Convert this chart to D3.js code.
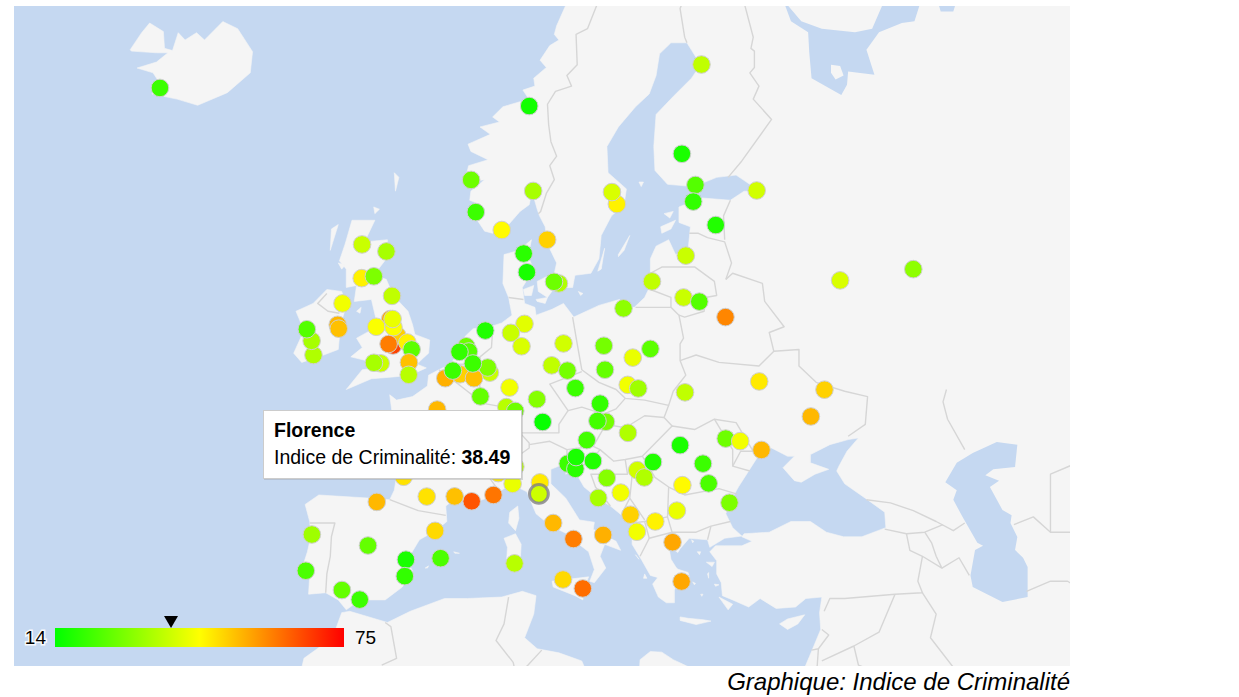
<!DOCTYPE html>
<html><head><meta charset="utf-8">
<script src="https://cdn.jsdelivr.net/npm/d3@7"></script>
<style>html,body{margin:0;padding:0;background:#fff}svg{display:block}text{font-family:"Liberation Sans",Arial,sans-serif}</style>
</head><body><svg id="c" width="1239" height="697"></svg>
<script>
// ---------- chart values: [city, longitude, latitude, crime index] ----------
const seriesName = "Indice de Criminalité";
const legendDomain = [14, 75];
const selectedCity = "Florence";
const captionText = "Graphique: Indice de Criminalité";

const nordic = [
 ["Reykjavik",-21.9,64.13,21],["Oulu",25.47,65.01,37],["Tampere",23.76,61.5,17],["Helsinki",24.94,60.17,24],
 ["Tallinn",24.75,59.44,20],["Saint-Pétersbourg",30.3,59.93,39],["Tartu",26.72,58.38,18],["Riga",24.1,56.95,38],
 ["Kaunas",23.9,54.9,38],["Vilnius",25.28,54.69,24],["Minsk",27.57,53.9,59],["Moscou",37.6,55.75,40],
 ["Nijni Novgorod",44,56.3,31],["Klaipeda",21.14,55.7,37],["Gdansk",18.65,54.35,31],["Trondheim",10.4,63.43,16],
 ["Oslo",10.75,59.91,34],["Bergen",5.32,60.39,27],["Stavanger",5.73,58.97,21],["Kristiansand",8,58.15,45],
 ["Göteborg",11.97,57.7,50],["Stockholm",18.07,59.33,46],["Uppsala",17.64,59.86,40],["Aalborg",9.92,57.05,19],
 ["Aarhus",10.2,56.15,17],["Malmö",13,55.6,35],["Copenhague",12.57,55.68,27]
];
const britain = [
 ["Coventry",-1.51,52.41,67],["Bradford",-1.75,53.8,55],["Nottingham",-1.15,52.95,50],["Birmingham",-1.9,52.49,60],
 ["Peterborough",-0.26,52.57,46],["Cambridge",0.12,52.2,25],["Liverpool",-2.98,53.4,44],["Sheffield",-1.47,53.38,44],
 ["Leeds",-1.55,53.8,42],["Newcastle",-1.6,54.98,37],["Glasgow",-4.25,55.86,46],["Edinburgh",-3.19,55.95,29],
 ["Inverness",-4.22,57.48,38],["Aberdeen",-2.09,57.15,34],["Belfast",-5.93,54.6,43],["Dublin",-6.35,53.5,53],
 ["Dublin Sud",-6.26,53.3,52],["Cork",-8.47,51.9,35],["Limerick",-8.63,52.66,34],["Galway",-9.05,53.27,24],
 ["Londres",-0.12,51.5,52],["Brighton",-0.14,50.82,36],["Bristol",-2.59,51.45,38],["Cardiff",-3.18,51.48,34]
];
const westCentral = [
 ["Hambourg",9.99,53.55,41],["Brême",8.8,53.08,38],["Hanovre",9.73,52.37,40],["Groningue",6.56,53.2,18],
 ["Amsterdam",4.9,52.37,27],["Utrecht",5.12,52.09,24],["La Haye",4.3,52.07,20],["Cologne",6.96,50.94,38],
 ["Düsseldorf",6.77,51.22,29],["Bruxelles",4.35,50.85,50],["Lille",3.06,50.63,54],["Liège",5.57,50.63,52],
 ["Eindhoven",5.47,51.44,21],["Gand",3.72,51.05,21],["Luxembourg",6.13,49.61,26],["Francfort",8.68,50.11,43],
 ["Karlsruhe",8.4,49,36],["Stuttgart",9.18,48.78,27],["Nuremberg",11.08,49.45,30],["Munich",11.58,48.14,15],
 ["Paris",2.35,48.86,53],["Berlin",13.4,52.52,39],["Leipzig",12.37,51.34,37],["Dresde",13.74,51.05,28],["Prague",14.44,50.08,21]
];
const east = [
 ["Poznan",16.93,52.4,28],["Varsovie",21,52.23,25],["Lodz",19.46,51.76,42],["Wroclaw",17.03,51.1,26],
 ["Katowice",19.02,50.26,43],["Cracovie",19.94,50.06,33],["Lviv",24.03,49.84,37],["Brno",16.6,49.2,20],
 ["Bratislava",17.11,48.15,28],["Vienne",16.37,48.2,22],["Budapest",19.04,47.5,35],["Graz",15.44,47.07,22],
 ["Trieste",13.77,45.65,21],["Rijeka",14.44,45.33,19],["Ljubljana",14.5,46.05,17],["Zagreb",15.98,45.81,18],
 ["Banja Luka",17.19,44.77,30],["Split",16.44,43.51,34],["Sarajevo",18.41,43.85,43],["Podgorica",19.26,42.44,50],
 ["Tirana",19.82,41.33,43],["Skopje",21.43,42,46],["Novi Sad",19.85,45.25,39],["Belgrade",20.47,44.8,35],
 ["Timisoara",21.23,45.75,18],["Cluj",23.6,46.77,17],["Iasi",27.59,47.16,27],["Chisinau",28.86,47.01,43],
 ["Odessa",30.72,46.48,53],["Brasov",25.6,45.65,21],["Bucarest",26.1,44.43,23],["Craiova",23.8,44.32,45],
 ["Varna",27.92,43.21,29],["Sofia",23.32,42.7,42],["Thessalonique",22.94,40.64,55],["Athènes",23.73,37.98,55],
 ["Kiev",30.52,50.45,47],["Dnipro",35.04,48.46,53],["Kharkiv",36.23,49.99,50]
];
const south = [
 ["Bologne",11.34,44.49,47],["Rome",12.5,41.9,53],["Naples",14.27,40.85,60],["Bari",16.87,41.12,54],
 ["Cagliari",9.12,39.22,36],["Palerme",13.36,38.12,49],["Catane",15.09,37.5,62],["Marseille",5.37,43.3,65],
 ["Nice",7.27,43.7,61],["Montpellier",3.88,43.61,52],["Toulouse",1.44,43.6,48],["Bilbao",-2.93,43.26,53],
 ["Barcelone",2.17,41.39,49],["Porto",-8.61,41.15,33],["Madrid",-3.7,40.42,26],["Valence",-0.38,39.47,17],
 ["Alicante",-0.48,38.35,20],["Palma",2.65,39.57,23],["Lisbonne",-9.14,38.72,23],["Séville",-5.98,37.39,26],
 ["Malaga",-4.42,36.72,21],["Bordeaux",-0.58,44.84,48],["Milan",9.19,45.46,36],["Turin",7.69,45.07,47],
 ["Gênes",8.95,44.4,42],["Florence",11.25,43.77,38.49]
];
const cities = [...nordic, ...britain, ...westCentral, ...east, ...south];

// ---------- geography: [longitude, latitude] outlines ----------
const eurasiaAfrica = [[25,71.2],[20,70],[16,68.8],[14.5,67.8],[13.7,67.2],[12.8,66.4],[12.6,66.1],[13,65.9],[12.2,65.7],[11.35,65.17],[11.9,64.9],[10.8,64.5],[10.9,64.2],[9.85,64.05],[10.6,63.55],[10.3,63.45],[9.6,63.6],[8.1,63.4],[7.2,63],[7.8,62.8],[6.1,62.6],[7,62.3],[5.05,61.9],[5.3,61.6],[6.8,61.25],[5.1,61],[4.9,60.6],[5.6,60.7],[5.1,60.3],[6.5,60.4],[5.3,59.9],[5.2,59.5],[6.2,59.3],[5.6,58.8],[6.5,58.1],[7.2,58],[8.6,58.4],[9.6,59],[10.4,59.3],[10.65,59.9],[11.1,59.1],[11.3,58.8],[11.8,58.3],[12,57.5],[12.8,56.6],[12.6,56.1],[13,55.4],[14.2,55.4],[14.4,56],[15.8,56.1],[16.5,56.8],[16.7,57.9],[17.6,58.8],[18.7,59.3],[18.9,60],[17.3,60.7],[17.2,61.8],[18.2,62.6],[19.7,63.4],[20.9,63.9],[21.5,64.6],[21.8,65.4],[22.8,65.8],[24.2,65.8],[25.4,65],[24.6,64.5],[23,63.8],[21.5,63.1],[21.3,61.8],[21.4,60.8],[22.5,60.2],[24.8,60.1],[26.8,60.5],[28.5,60.6],[29.7,60.2],[30.2,59.9],[29.2,59.9],[28,59.5],[25.5,59.6],[23.5,59.2],[23.5,58.5],[24.5,58.3],[24.3,57.2],[23.2,57],[22.6,57.7],[21.5,57.4],[21,56.8],[21,55.5],[20.5,54.9],[19.6,54.4],[18.7,54.4],[18.3,54.8],[16.5,54.5],[14.3,53.9],[13.4,54.6],[12.4,54.3],[11,54],[10.9,54.4],[10,54.6],[9.8,55.4],[10.8,56.3],[10.3,56.9],[10.6,57.7],[9.5,57.2],[8.2,57],[8.1,55.6],[8.6,54.9],[8.9,54],[8,53.6],[7,53.4],[5.5,53.3],[4.8,52.9],[4.2,52],[3.5,51.4],[2.5,51.1],[1.6,50.8],[1.5,50.2],[0.2,49.6],[-1.2,49.4],[-1.8,49.7],[-1.6,48.7],[-3,48.8],[-4.7,48.5],[-4.5,47.9],[-3,47.5],[-2,47.2],[-1.2,46.2],[-1.1,45.3],[-1.4,44],[-1.8,43.4],[-3.5,43.5],[-5.8,43.6],[-8,43.7],[-9.2,43.1],[-8.8,42],[-8.7,41],[-9,40],[-9.5,38.8],[-8.8,38.4],[-8.9,37.1],[-7.4,37.2],[-6.3,36.7],[-5.6,36],[-4.4,36.7],[-2.2,36.7],[-0.7,37.6],[0.2,38.7],[-0.3,39.4],[0.8,40.8],[2.2,41.4],[3.2,42],[3.1,43],[4,43.5],[5.4,43.2],[7.2,43.6],[8.8,44.4],[10.2,43.9],[11,42.5],[12.3,41.7],[13.7,41.2],[14.4,40.7],[15.6,40],[16.1,38.8],[15.7,38],[16.1,37.9],[17.1,38.9],[16.6,39.7],[17,40.5],[18.4,40.1],[18,40.7],[16,41.5],[16.1,41.95],[14.8,42.1],[13.6,43.5],[12.3,44.4],[12.3,45.3],[13.7,45.7],[13.6,45],[14.3,45.3],[15.2,44.2],[16.4,43.5],[17.5,43],[18.5,42.4],[19.4,41.8],[19.4,40.5],[20.2,39.5],[21,38.4],[22.8,38],[21.7,38.3],[21.2,37.8],[21.7,36.9],[22.4,36.5],[23.1,36.5],[23.1,37.4],[23.5,38],[24,37.7],[24,38.2],[23.2,39],[22.8,39.5],[22.6,40.4],[23.4,39.95],[23.6,40.2],[24.4,40.9],[26,40.8],[26.2,40.3],[27.5,40.9],[29,41.05],[28.2,41.6],[27.6,42.5],[28,43.3],[28.7,44.2],[29.6,45.2],[30.7,46.4],[31.6,46.6],[33,46.1],[33.6,46.1],[32.6,45.4],[33.6,44.6],[34.2,44.5],[35.4,45],[36.6,45.3],[35,45.7],[35,46.2],[36.7,46.8],[38.3,47.1],[39.2,47.2],[38.2,46.4],[37.5,45.5],[37.3,45.2],[38,44.4],[39.8,43.5],[41.5,42.6],[41.6,41.6],[39.5,41],[37.9,41],[36.4,41.3],[35,42],[33.3,42],[31.4,41.3],[29.2,41.2],[29,41],[29.9,40.7],[29,40.4],[27.5,40.4],[26.7,40.4],[26.2,40],[26.8,39.4],[26.8,38.5],[27.2,37.9],[27.3,37],[28.2,36.7],[29.6,36.2],[30.6,36.8],[32,36.1],[33.7,36.2],[34.6,36.8],[36,36.9],[35.8,35.8],[35.9,34.6],[35.1,33],[34.3,31.4],[32.3,31.2],[30,31.3],[25,31.6],[23,32.4],[22,32.95],[21,33],[20.1,32.4],[20,31],[19,30.3],[15.5,31.3],[15,32.3],[13,32.9],[11.1,33.2],[10,34],[10.8,35.7],[11,37],[9.8,37.3],[8,36.9],[5,36.8],[3,36.8],[0,35.9],[-2,35.1],[-5.3,35.9],[-6,35.8],[-6.8,34],[-9.3,32.5],[-10,30],[-10,25],[62,25],[62,72]];
const greatBritain = [[-5.1,58.6],[-3.1,58.6],[-4,57.6],[-2,57.7],[-2.1,56.8],[-3.2,56],[-2.1,55.8],[-1.5,55],[-0.2,54.2],[0.2,53.5],[0.4,53],[1.7,52.7],[1.6,52],[0.9,51.6],[0.6,51.4],[1.4,51.2],[0,50.8],[-1.5,50.7],[-3.4,50.6],[-5.6,50],[-4.2,51.1],[-3,51.2],[-3.2,51.5],[-5.2,51.8],[-4.2,52.3],[-4.7,52.8],[-3.2,53.3],[-3,53.8],[-3.4,54.8],[-4.9,54.7],[-4.7,55.5],[-5.6,55.4],[-5.6,56.3],[-6.2,56.7],[-5.7,57.5]];
const ireland = [[-5.6,54.5],[-6,55.2],[-7.3,55.3],[-8.5,54.6],[-10,54.2],[-9.3,53.2],[-10.2,52],[-9.5,51.5],[-8,51.8],[-6.3,52.2],[-6.1,53.5]];
const iceland = [[-24.5,65.55],[-23.5,66.16],[-22.8,66.5],[-21.6,66.2],[-21.5,65.6],[-20.8,65.52],[-20.3,66.16],[-19.7,65.9],[-18.7,66.16],[-18,65.9],[-16.4,66.55],[-15.1,66.3],[-13.8,65.48],[-14,64.7],[-16,63.95],[-18.6,63.46],[-20.4,63.7],[-22.6,63.9],[-21.9,64.3],[-22.5,64.7],[-23.9,64.88],[-22.2,65.1],[-21.2,65.44],[-22.2,65.44],[-24.4,65.5]];
const islands = [
 [[8.2,40.9],[9.2,41.2],[9.7,40.5],[9.6,39.2],[9,39],[8.4,39.1],[8.5,40.3]],
 [[9.4,43],[9.5,42.2],[9.2,41.4],[8.6,41.9],[8.7,42.6]],
 [[12.4,38],[15.6,38.3],[15.1,37.3],[15.1,36.7],[14.4,37],[12.5,37.6]],
 [[2.4,39.6],[3.1,39.9],[3.3,39.7],[3,39.3]],[[3.8,40],[4.3,39.9],[3.9,39.9]],[[1.3,38.9],[1.6,39.05],[1.5,38.9]],
 [[23.6,35.5],[24.3,35.4],[25.6,35.3],[26.3,35.2],[25,34.95],[23.6,35.25]],
 [[32.3,35],[33,35.35],[34.5,35.65],[33.9,35],[33,34.6]],
 [[18.2,57],[19.2,57.9],[18.7,57.2],[18.2,56.9]],[[16.4,56.2],[17,57.3],[16.7,56.3]],
 [[21.9,58.3],[23.2,58.6],[22.8,58.2],[22,58]],[[22.2,58.9],[23,59],[22.7,58.7]],
 [[11.1,55.7],[12.5,56.1],[12.5,55.3],[12,54.9],[11.2,55.2]],[[9.9,55.3],[10.8,55.5],[10.6,55],[10,55]],
 [[11,54.8],[12,54.9],[11.8,54.6],[11.1,54.7]],[[14.7,55.2],[15.1,55.1],[14.9,55]],
 [[-7,57.2],[-6.3,58.4],[-6.9,58.2]],[[-6.3,56.6],[-5.7,56.5],[-6,56.3]],[[-3.2,59.2],[-2.7,59.1],[-3.1,58.9]],[[-1.4,60.7],[-1,60.5],[-1.3,59.9]],
 [[-4.7,54.2],[-4.3,54.4],[-4.4,54.1]],[[20,60.3],[20.4,60.3],[20.2,60.1]],
 [[25.9,39.3],[26.6,39.3],[26.4,39]],[[26,38.5],[26.1,38.6],[26.1,38.2]],[[23.1,38.9],[24.3,38.6],[24.5,38],[23.6,38.5]],
 [[27,36.9],[28.2,36.4],[27.8,36]],[[19.7,39.8],[20,39.5],[19.8,39.7]],[[20.5,38.5],[20.7,38.2],[20.4,38.2]],
 [[25.1,40],[25.4,40],[25.3,39.8]],[[24.6,40.8],[24.8,40.7],[24.7,40.6]],[[25.4,37.1],[25.6,37.1],[25.5,36.95]],[[24.7,37.95],[24.95,37.85],[24.85,37.75]],[[26.6,37.8],[27,37.75],[26.7,37.65]]
];
const caspianSea = [[49.2,46.3],[51.3,46.96],[53.1,46.8],[52.9,45.44],[51,45.3],[50.3,44.94],[51.5,44.6],[50.7,44.2],[51.8,42.74],[52.6,42.4],[52.5,41.9],[53.1,40.98],[52.9,40.12],[53.6,39.6],[54,38.98],[54,36.9],[51.8,36.56],[49.2,37.6],[49,38.4],[49.4,40.12],[50.1,40.4],[49.6,40.6],[48.3,42.3],[47.5,43.4],[47.8,44],[46.8,44.5],[47.8,45.7]];
const whiteSea = [[32.6,67.3],[34.2,66.56],[36,66.3],[38.9,66.18],[40.4,66.3],[41.5,67.3],[44.7,67.3],[44.1,66.56],[43,66.5],[41,66.18],[39.9,65.55],[40.6,64.63],[38.3,64.75],[38.2,64.25],[37.7,63.86],[35.1,64.5],[34.9,65.44],[34.8,66.18],[33.3,66.56]];
const northNotch = [[46,67.4],[47.9,67.4],[47.5,66.9],[46.4,66.9]];
const onegaPeninsula = [[36.8,65],[37.6,64.95],[37.9,64.6],[37.2,64.45],[36.8,64.7]];

const borders = [
 [[16.4,67.2],[15.5,66.3],[14.5,66.1],[14.6,65],[13.7,64.6],[14.1,64.2],[12.7,64],[12,63.5],[12.1,62.7],[12.3,62],[12.8,61.4],[12.2,61],[12.6,60.4],[11.9,59.8],[11.4,59],[11.2,58.9]],
 [[23.8,67.2],[23.6,67],[24,66],[24.2,65.8]],
 [[29.2,67.2],[30,66],[29.8,65.6],[30.1,65.5],[30.1,64.9],[29.7,64.7],[30.5,64.2],[30,63.7],[31.6,62.9],[29,61.2],[27.8,60.5]],
 [[28,59.5],[27.4,58.8],[27.5,57.7]],[[24.4,58],[25.2,58],[26,57.8],[27.5,57.6],[28.1,56.6],[27.6,55.8]],
 [[21,56.1],[22,56.4],[24.9,56.4],[26.6,55.7],[26.8,55],[25.8,54.9],[25.7,54.2],[24,53.9],[23.5,54]],
 [[21,55.3],[22.8,54.9],[22.8,54.4],[23.5,54],[23.9,52.8],[23.6,52.5],[23.6,51.6],[24.1,50.8],[23,49.9],[22.6,49.1]],
 [[19.7,54.4],[22.8,54.4]],[[27.6,55.8],[28.2,56.1],[30.8,55.6],[31,54.7],[32.7,53.4],[31.4,53.1],[31.8,52.1]],
 [[23.6,51.6],[25,51.9],[27,51.5],[30.5,51.3],[31.8,52.1],[34,52.2],[34,51.3],[35.5,50.4],[38,49.9],[40,49.6],[39.8,48],[38.3,47.3]],
 [[14.2,53.9],[14.6,52.5],[15,51.1],[16.5,50.4],[18,50],[18.8,49.5],[20.5,49.4],[22.6,49.1],[22.2,48.4],[22.9,47.9]],
 [[15,51],[12.2,50.3],[13.8,48.8],[15,49],[16.9,48.6],[18,48.9],[18.8,49.5]],
 [[13.8,48.8],[13,48],[13,47.5],[10.5,47.5],[9.6,47.5],[8.5,47.7],[7.6,47.6],[8.2,49],[6.5,49.2],[6.4,49.5],[6.1,50.1],[6,50.7],[6.1,51.8],[7.1,52.3],[7.2,53.2]],
 [[8.6,54.9],[9.9,54.8]],[[3.4,51.4],[4.8,51.4],[5.9,51],[5.7,50.8]],[[2.5,51.1],[4.2,50.3],[4.8,50],[5.8,49.5],[6.4,49.5]],[[5.8,49.5],[6.1,50.1]],
 [[7.6,47.6],[6.1,46.2],[6.9,46],[6.7,45],[7.6,44.1],[7.5,43.8]],[[6.9,46],[8.5,46.3],[9,45.9],[10.4,46.6],[10.4,46.9],[9.6,47.5]],
 [[10.4,46.8],[12.2,47],[13.7,46.5],[13.7,45.7]],[[13.7,46.5],[16,46.7],[17.1,48],[16.9,48.6]],
 [[17.1,48],[18.8,47.8],[20.5,48.5],[22.2,48.4]],[[16,46.7],[16.6,46.5],[17.8,45.8],[18.8,45.9],[20.3,46.1],[22.9,47.9],[24.9,47.7],[26.6,48.3],[28.2,46.5],[28.2,45.5],[29.7,45.2]],
 [[26.6,48.3],[28.5,48.1],[30,46.4],[28.9,46.4],[28.2,45.5]],[[20.3,46.1],[21.4,44.8],[22.6,44.2],[24,43.7],[27,44.1],[28.6,43.75]],
 [[22.6,44.2],[22.5,42.3],[22.9,41.3],[25,41.3],[26.3,41.7],[28,42]],[[26.3,41.7],[26,40.8]],[[22.9,41.3],[20.9,40.9],[20.1,39.7]],
 [[20.9,40.9],[20.5,42],[22.5,42.3]],[[20.5,42],[19.4,41.9]],[[20.5,42.1],[19.2,43.5],[19.4,44.9]],[[19.2,43.5],[18.5,42.5]],
 [[17.5,43],[16.2,44.2],[15.8,45],[19,45],[18.8,45.9]],[[13.6,45.5],[15.5,45.6],[16.6,46.5]],
 [[-8.8,41.9],[-8.1,41.9],[-6.6,41.9],[-6.9,41],[-7,39.7],[-7.3,38.5],[-7.4,37.2]],[[-1.8,43.4],[0.7,42.7],[3.1,42.4]],
 [[-7.3,55.1],[-8.1,54.6],[-7.2,54.2],[-6.2,54.1]],
 [[46.9,50],[46.6,49.3],[47,48.3],[48.5,46.5]],[[39.9,43.4],[42,43.2],[44,42.7],[46,42],[47.5,41.4],[48.5,41.9]],
 [[41.5,41.5],[43.4,41.2],[45,41.3],[46.6,41.8]],[[43.4,41.2],[43.7,40.1],[44.8,39.7],[46.5,38.9],[46,39.7],[45.6,40.6],[45,41.3]],
 [[46.5,38.9],[48,39.6],[48.9,38.4]],[[44.8,39.7],[44.4,38],[44.8,37.2],[42.4,37.1],[38,36.8],[36.7,36.8],[36.2,35.9]],
 [[42.4,37.1],[41,34.4],[38.8,33.4],[36,32.3]],[[38.8,33.4],[39.2,32],[42,31]],[[44.8,37.2],[46,35.7],[45.5,34],[47.8,31.5]],
 [[36,34.6],[36.6,34.2],[35.7,33.2],[35.1,33.1]],[[35.7,33.2],[35.6,32],[35,29.5]],
 [[53.9,37.3],[56,38],[57.5,38],[58.5,37.5]],[[52.8,41.8],[54.5,42.3],[56,41.3],[58,41.3]],[[56,41.3],[56,45],[58,45.6]],
 [[-2.2,35.1],[-1.7,34.8],[-1.2,32.5],[-2.5,32]],[[8.6,36.9],[8.2,35],[7.5,33.8],[9,32.2],[9.3,31]],[[11.5,33.1],[10.3,32],[9.3,31.2]],[[25,31.6],[25,30]]
];

// ---------- layout ----------
const frame = {x:14, y:6, w:1056, h:660};
const svg = d3.select("#c");
const proj = d3.geoMercator().scale(655).translate([410.3,1051.5]);
const color = d3.scaleLinear().domain([14,44.5,75]).range(["#00ff00","#ffff00","#ff0000"]);
const ring = d3.line().x(d=>proj(d)[0]).y(d=>proj(d)[1]);

const defs = svg.append("defs");
defs.append("clipPath").attr("id","mapClip").append("rect")
  .attr("x",frame.x).attr("y",frame.y).attr("width",frame.w).attr("height",frame.h);
const map = svg.append("g").attr("clip-path","url(#mapClip)");
const landColor="#f5f5f5", seaColor="#c5d8f1";
map.append("rect").attr("x",frame.x).attr("y",frame.y).attr("width",frame.w).attr("height",frame.h).attr("fill",seaColor);

map.selectAll("path.land").data([eurasiaAfrica,greatBritain,ireland,iceland,...islands]).join("path")
  .attr("class","land").attr("d",d=>ring(d)+"Z").attr("fill",landColor).attr("stroke",landColor).attr("stroke-width",.6);
map.selectAll("path.sea").data([caspianSea,whiteSea,northNotch]).join("path")
  .attr("class","sea").attr("d",d=>ring(d)+"Z").attr("fill",seaColor);
map.append("path").attr("d",ring(onegaPeninsula)+"Z").attr("fill",landColor);
map.selectAll("path.border").data(borders).join("path")
  .attr("class","border").attr("d",ring).attr("fill","none").attr("stroke","#d6d6d6").attr("stroke-width",1.4).attr("stroke-linejoin","round");

// markers
map.selectAll("circle.city").data(cities).join("circle").attr("class","city")
  .attr("cx",d=>proj([d[1],d[2]])[0]).attr("cy",d=>proj([d[1],d[2]])[1]).attr("r",8.8)
  .attr("fill",d=>color(d[3])).attr("stroke","#cfcfcf").attr("stroke-width",1);
const sel = cities.find(d=>d[0]===selectedCity);
map.append("circle").attr("cx",proj([sel[1],sel[2]])[0]).attr("cy",proj([sel[1],sel[2]])[1]).attr("r",9.4)
  .attr("fill","none").attr("stroke","#7a7a7a").attr("stroke-opacity",.75).attr("stroke-width",3);

// legend
const lx = d3.scaleLinear().domain(legendDomain).range([55,344]);
const grad = defs.append("linearGradient").attr("id","lg");
[14,44.5,75].forEach(v=>grad.append("stop").attr("offset",(v-14)/61).attr("stop-color",color(v)));
svg.append("rect").attr("x",lx(14)).attr("y",628).attr("width",lx(75)-lx(14)).attr("height",19).attr("fill","url(#lg)");
const legendText=(t,x,a)=>{svg.append("text").attr("x",x).attr("y",644).attr("text-anchor",a).attr("font-size",19)
  .attr("stroke","#fff").attr("stroke-width",3).attr("paint-order","stroke").attr("fill","#000").attr("stroke-opacity",a==="end"?.9:0).text(t);};
legendText(legendDomain[0],46,"end"); legendText(legendDomain[1],355,"start");
const tx = lx(sel[3]);
svg.append("path").attr("d",`M${tx-7},616L${tx+7},616L${tx},628Z`).attr("fill","#000");

// tooltip
const tip = svg.append("g");
tip.append("rect").attr("x",264).attr("y",411).attr("width",259).attr("height",69).attr("fill","#999").attr("opacity",.35);
tip.append("rect").attr("x",263.5).attr("y",410.5).attr("width",258).attr("height",68).attr("fill","#fff").attr("stroke","#ccc").attr("stroke-width",1);
tip.append("text").attr("x",274).attr("y",437).attr("font-size",19.5).attr("font-weight","bold").attr("fill","#000").text(sel[0]);
const t2=tip.append("text").attr("x",274).attr("y",464).attr("font-size",19.5).attr("fill","#000");
t2.append("tspan").text(seriesName+": ");
t2.append("tspan").attr("font-weight","bold").text(sel[3]);

svg.append("text").attr("x",1070).attr("y",690).attr("text-anchor","end").attr("font-size",24).attr("font-style","italic").attr("fill","#000").text(captionText);
</script></body></html>
